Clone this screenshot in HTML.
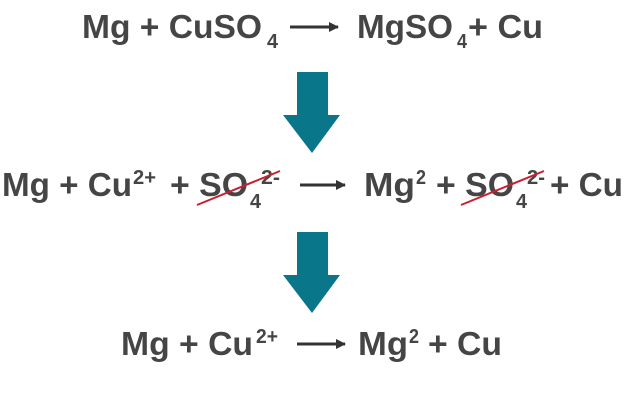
<!DOCTYPE html>
<html><head><style>html,body{margin:0;padding:0;background:#fff}svg{display:block}</style></head><body>
<svg width="624" height="400" viewBox="0 0 624 400" xmlns="http://www.w3.org/2000/svg" font-family="Liberation Sans, Arial, sans-serif" font-weight="bold" fill="#454545">
<defs><marker id="ah" markerWidth="10" markerHeight="10" refX="9" refY="5" orient="auto" markerUnits="userSpaceOnUse"><path d="M0,0 L10,5 L0,10 Z" fill="#333"/></marker></defs>
<!-- line 1 -->
<text x="82" y="38" font-size="33" textLength="180" lengthAdjust="spacingAndGlyphs">Mg + CuSO</text>
<text x="267" y="48" font-size="20" textLength="11" lengthAdjust="spacingAndGlyphs">4</text>
<line x1="290" y1="27" x2="338" y2="27" stroke="#333" stroke-width="3" marker-end="url(#ah)"/>
<text x="357" y="38" font-size="33" textLength="96" lengthAdjust="spacingAndGlyphs">MgSO</text>
<text x="457" y="48" font-size="20" textLength="10" lengthAdjust="spacingAndGlyphs">4</text>
<text x="468" y="38" font-size="33" textLength="75" lengthAdjust="spacingAndGlyphs">+ Cu</text>
<!-- down arrow 1 -->
<polygon points="297,72 328,72 328,115 340,115 312,153 283,115 297,115" fill="#0a7689"/>
<!-- line 2 -->
<text x="2" y="196" font-size="33" textLength="130" lengthAdjust="spacingAndGlyphs">Mg + Cu</text>
<text x="133" y="184" font-size="20" textLength="23" lengthAdjust="spacingAndGlyphs">2+</text>
<text x="170" y="196" font-size="33" textLength="78" lengthAdjust="spacingAndGlyphs">+ SO</text>
<text x="250" y="208" font-size="20" textLength="11" lengthAdjust="spacingAndGlyphs">4</text>
<text x="261" y="184" font-size="20" textLength="19" lengthAdjust="spacingAndGlyphs">2-</text>
<line x1="197" y1="205" x2="280" y2="171" stroke="#c8202e" stroke-width="2"/>
<line x1="300" y1="185" x2="345" y2="185" stroke="#333" stroke-width="3" marker-end="url(#ah)"/>
<text x="364" y="196" font-size="33" textLength="51" lengthAdjust="spacingAndGlyphs">Mg</text>
<text x="416" y="184" font-size="20" textLength="10" lengthAdjust="spacingAndGlyphs">2</text>
<text x="436" y="196" font-size="33" textLength="78" lengthAdjust="spacingAndGlyphs">+ SO</text>
<text x="516" y="208" font-size="20" textLength="11" lengthAdjust="spacingAndGlyphs">4</text>
<text x="527" y="184" font-size="20" textLength="18" lengthAdjust="spacingAndGlyphs">2-</text>
<line x1="461" y1="205" x2="544" y2="171" stroke="#c8202e" stroke-width="2"/>
<text x="550" y="196" font-size="33" textLength="73" lengthAdjust="spacingAndGlyphs">+ Cu</text>
<!-- down arrow 2 -->
<polygon points="297,232 328,232 328,275 340,275 312,313 283,275 297,275" fill="#0a7689"/>
<!-- line 3 -->
<text x="121" y="355" font-size="33" textLength="132" lengthAdjust="spacingAndGlyphs">Mg + Cu</text>
<text x="256" y="343" font-size="20" textLength="22" lengthAdjust="spacingAndGlyphs">2+</text>
<line x1="297" y1="344" x2="345" y2="344" stroke="#333" stroke-width="3" marker-end="url(#ah)"/>
<text x="358" y="355" font-size="33" textLength="50" lengthAdjust="spacingAndGlyphs">Mg</text>
<text x="409" y="343" font-size="20" textLength="10" lengthAdjust="spacingAndGlyphs">2</text>
<text x="428" y="355" font-size="33" textLength="74" lengthAdjust="spacingAndGlyphs">+ Cu</text>
</svg>
</body></html>
